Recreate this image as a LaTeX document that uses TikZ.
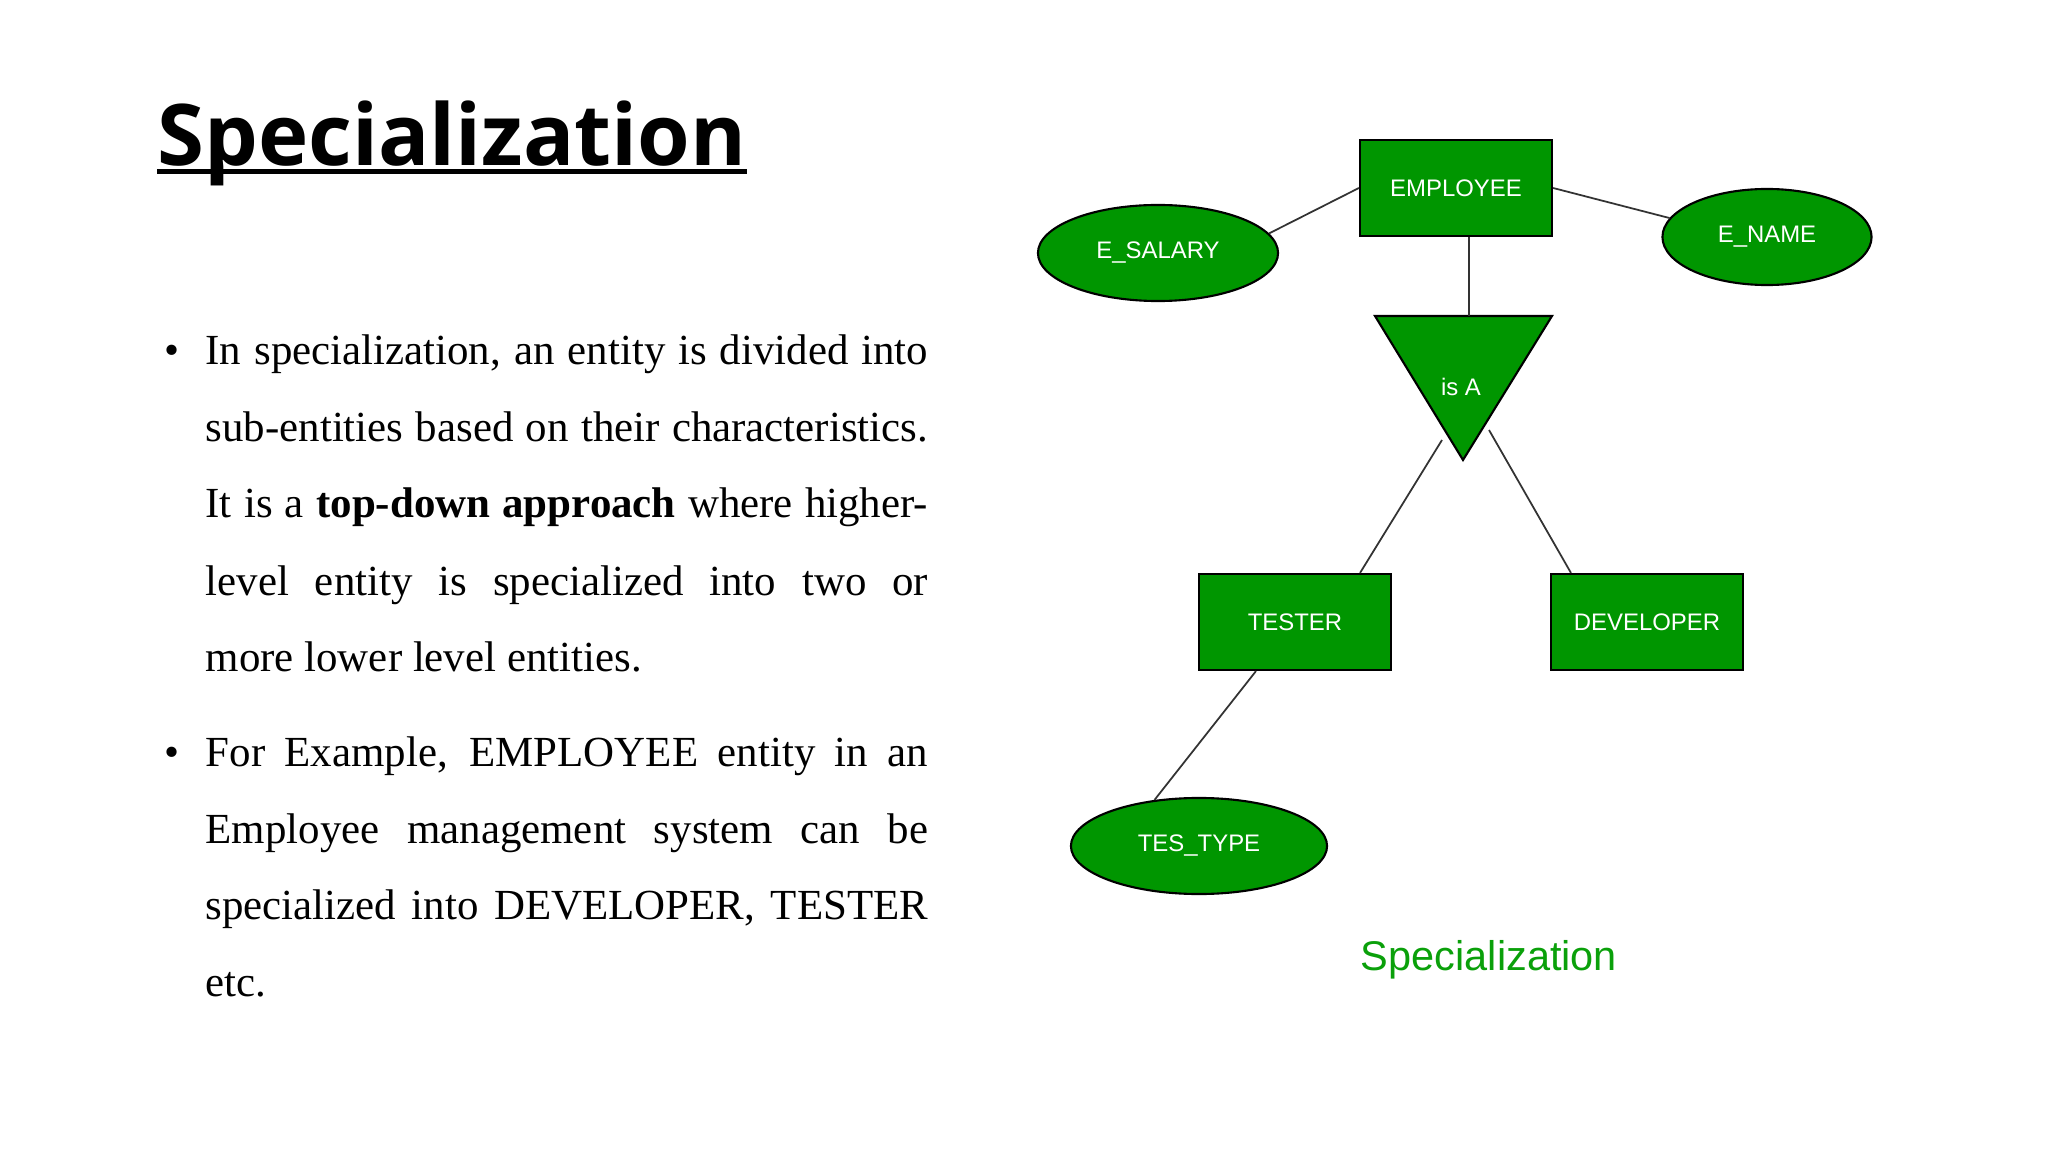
\documentclass[tikz,border=0pt]{standalone}
\usepackage{fontspec}
\setmainfont{Liberation Serif}
\newfontfamily\diagfont{Liberation Sans}
\newfontfamily\headfont{Open Sans}
\usetikzlibrary{shapes.geometric}
\definecolor{ergreen}{RGB}{0,150,0}
\definecolor{capgreen}{RGB}{10,160,10}

\begin{document}
\begin{tikzpicture}[x=0.01cm,y=-0.01cm,
	entity/.style={draw=black,line width=0.6pt,fill=ergreen,text=white,minimum width=1.92cm,minimum height=0.96cm,inner sep=0pt,font=\diagfont\fontsize{6.8}{8}\selectfont},
	attrib/.style={entity,ellipse,minimum height=0.96cm},
	link/.style={line width=0.5pt,black!80},
	textline/.style={anchor=base west,inner sep=0pt,font=\fontsize{12.2}{14}\selectfont}]
	\useasboundingbox (0,0) rectangle (2048,1152);
	% title
	\node[anchor=base west,inner sep=0pt,font=\headfont\bfseries\fontsize{24.2}{28}\selectfont] (title) at (157,166) {Specialization};
	\draw[line width=0.05cm] ([yshift=-0.06cm]title.base west) -- ([yshift=-0.06cm]title.base east);
	% first bullet
	\node[textline,anchor=base] (b1) at (172,365) {\textbullet};
	\node[textline] (l1) at (205,365) {\makebox[7.22cm][s]{In specialization, an entity is divided into}};
	\node[textline] (l2) at (205,442) {\makebox[7.22cm][s]{sub-entities based on their characteristics.}};
	\node[textline] (l3) at (205,518) {\makebox[7.22cm][s]{It is a \textbf{top-down approach} where higher-}};
	\node[textline] (l4) at (205,595) {\makebox[7.22cm][s]{level entity is specialized into two or}};
	\node[textline] (l5) at (205,671) {more lower level entities.};
	% second bullet
	\node[textline,anchor=base] (b2) at (172,766) {\textbullet};
	\node[textline] (l6) at (205,766) {\makebox[7.22cm][s]{For Example, EMPLOYEE entity in an}};
	\node[textline] (l7) at (205,843) {\makebox[7.22cm][s]{Employee management system can be}};
	\node[textline] (l8) at (205,919) {\makebox[7.22cm][s]{specialized into DEVELOPER, TESTER}};
	\node[textline] (l9) at (205,996) {etc.};
	% entity EMPLOYEE and its attributes
	\node[entity] (emp) at (1456,188) {EMPLOYEE};
	\node[attrib,minimum width=2.40cm] (sal) at (1158,253) {E\_SALARY};
	\node[attrib,minimum width=2.09cm] (ename) at (1767,237) {E\_NAME};
	% is A triangle
	\coordinate (ta) at (1375,316);
	\coordinate (tb) at (1552,316);
	\coordinate (tc) at (1463,460);
	\filldraw[fill=ergreen,draw=black,line width=0.6pt] (ta) -- (tb) -- (tc) -- cycle;
	\node[text=white,inner sep=0pt,font=\diagfont\fontsize{6.8}{8}\selectfont] (isa) at (1461,387) {is A};
	\coordinate (isatop) at (1469,316);
	\coordinate (isaleft) at (1442,440);
	\coordinate (isaright) at (1489,430);
	% sub-entities
	\node[entity] (tester) at (1295,622) {TESTER};
	\node[entity] (dev) at (1647,622) {DEVELOPER};
	\node[attrib,minimum width=2.56cm] (tes) at (1199,846) {TES\_TYPE};
	% links
	\draw[link] (sal.10) -- (emp.west);
	\draw[link] (emp.east) -- (ename.169);
	\draw[link] (emp.south -| isatop) -- (isatop);
	\draw[link] (isaleft) -- ([xshift=0.65cm]tester.north);
	\draw[link] (isaright) -- ([xshift=-0.76cm]dev.north);
	\draw[link] ([xshift=-0.39cm]tester.south) -- (tes.134);
	% caption
	\node[text=capgreen,inner sep=0pt,font=\diagfont\fontsize{11.8}{14}\selectfont,anchor=base] (caption) at (1489,970) {Specialization};
\end{tikzpicture}
\end{document}
